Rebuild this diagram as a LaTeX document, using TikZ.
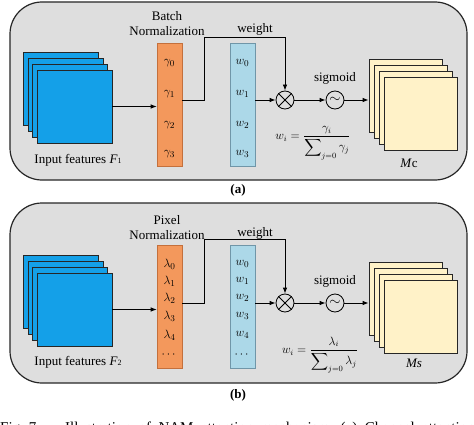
\documentclass[tikz,border=0pt]{standalone}
\usepackage{amsmath}
\usepackage{fontspec}
\setmainfont{Liberation Serif}
\usetikzlibrary{arrows.meta}
\definecolor{panelgray}{RGB}{222,222,222}
\definecolor{featblue}{RGB}{20,160,232}
\definecolor{bnorange}{RGB}{243,152,92}
\definecolor{bnedge}{RGB}{196,112,60}
\definecolor{wblue}{RGB}{172,216,232}
\definecolor{wedge}{RGB}{112,150,168}
\definecolor{mapyellow}{RGB}{255,242,200}

\begin{document}
\begin{tikzpicture}[x=10pt,y=10pt,
	panel/.style={draw=black!85,fill=panelgray,line width=1.2pt,rounded corners=32pt},
	feat/.style={draw=black!85,fill=featblue,line width=.8pt,minimum width=75pt,minimum height=73pt,inner sep=0pt},
	attmap/.style={draw=black!85,fill=mapyellow,line width=.8pt,minimum width=73pt,minimum height=73pt,inner sep=0pt},
	normbar/.style={draw=bnedge,fill=bnorange,line width=.6pt,minimum width=25pt,minimum height=123pt,inner sep=0pt},
	wbar/.style={draw=wedge,fill=wblue,line width=.6pt,minimum width=25pt,minimum height=123pt,inner sep=0pt},
	op/.style={draw,circle,line width=.8pt,minimum size=18pt,inner sep=0pt},
	lbl/.style={font=\fontsize{13}{15}\selectfont,inner sep=1pt},
	item/.style={font=\fontsize{13}{15}\selectfont,inner sep=0pt},
	arr/.style={-{Latex[length=6pt,width=4.5pt]},line width=.8pt}]
	\useasboundingbox (0,0) rectangle (47.4,42.4);

	\draw[panel] (1.0,42.2) rectangle (46.7,24.4);
	\node[lbl,font=\bfseries\fontsize{13}{15}\selectfont] (capA) at (23.8,23.4) {(a)};

	\node[feat] (inA4) at (6.05,33.55) {};
	\node[feat] (inA3) at (6.55,32.95) {};
	\node[feat] (inA2) at (6.95,32.35) {};
	\node[feat] (inA1) at (7.45,31.75) {};
	\node[lbl] (inlabA) at (7.8,26.4) {Input features \textit{F}{\footnotesize 1}};

	\node[normbar] (bnA) at (16.95,31.95) {};
	\node[lbl,align=center] (bnlabA) at (16.7,40.05) {Batch\\Normalization};
	\node[item] (gA0) at (16.95,36.1) {$\gamma_0$};
	\node[item] (gA1) at (16.95,33.0) {$\gamma_1$};
	\node[item] (gA2) at (16.95,29.9) {$\gamma_2$};
	\node[item] (gA3) at (16.95,27.0) {$\gamma_3$};

	\node[wbar] (wA) at (24.25,31.95) {};
	\node[item] (wA0) at (24.25,36.1) {$w_0$};
	\node[item] (wA1) at (24.25,33.0) {$w_1$};
	\node[item] (wA2) at (24.25,29.9) {$w_2$};
	\node[item] (wA3) at (24.25,27.0) {$w_3$};

	\node[op] (mulA) at (28.5,32.4) {};
	\draw[line width=.8pt] (mulA.north west) -- (mulA.south east) (mulA.north east) -- (mulA.south west);
	\node[op,font=\fontsize{14}{14}\selectfont] (sigA) at (33.5,32.4) {$\sim$};
	\node[lbl,anchor=south,inner sep=0pt] (siglabA) at (33.5,33.9) {sigmoid};
	\node[lbl] (wtlabA) at (25.5,39.5) {weight};
	\coordinate (bendA) at (20.4,38.7);
	\node[item,font=\fontsize{12}{14}\selectfont] (eqA) at (31.3,28.1) {$w_i=\dfrac{\gamma_i}{\displaystyle\sum\nolimits_{j=0}\gamma_j}$};

	\node[attmap] (mcA4) at (40.55,32.85) {};
	\node[attmap] (mcA3) at (41.05,32.25) {};
	\node[attmap] (mcA2) at (41.55,31.65) {};
	\node[attmap] (mcA1) at (42.05,31.05) {};
	\node[lbl] (mclab) at (40.9,26.1) {\textit{M}c};

	\draw[arr] (inA1.east) -- (inA1.east -| bnA.west);
	\draw[arr] (bnA.east |- mulA) -| (bendA) -| (mulA);
	\draw[arr] (wA.east |- mulA) -- (mulA);
	\draw[arr] (mulA) -- (sigA);
	\draw[arr] (sigA) -- (sigA -| mcA4.west);

	\draw[panel] (1.0,22.1) rectangle (46.7,4.1);
	\node[lbl,font=\bfseries\fontsize{13}{15}\selectfont] (capB) at (23.8,2.9) {(b)};

	\node[feat] (inB4) at (6.05,13.25) {};
	\node[feat] (inB3) at (6.55,12.65) {};
	\node[feat] (inB2) at (6.95,12.05) {};
	\node[feat] (inB1) at (7.45,11.45) {};
	\node[lbl] (inlabB) at (7.8,6.2) {Input features \textit{F}{\footnotesize 2}};

	\node[normbar] (pnB) at (16.95,11.75) {};
	\node[lbl,align=center] (pnlabB) at (16.7,19.65) {Pixel\\Normalization};
	\node[item] (lB0) at (16.95,16.0) {$\lambda_0$};
	\node[item] (lB1) at (16.95,14.3) {$\lambda_1$};
	\node[item] (lB2) at (16.95,12.6) {$\lambda_2$};
	\node[item] (lB3) at (16.95,10.8) {$\lambda_3$};
	\node[item] (lB4) at (16.95,8.9) {$\lambda_4$};
	\node[item] (lB5) at (16.95,6.9) {$\cdots$};

	\node[wbar] (wB) at (24.25,11.75) {};
	\node[item] (wB0) at (24.25,16.0) {$w_0$};
	\node[item] (wB1) at (24.25,14.3) {$w_1$};
	\node[item] (wB2) at (24.25,12.6) {$w_2$};
	\node[item] (wB3) at (24.25,10.8) {$w_3$};
	\node[item] (wB4) at (24.25,8.9) {$w_4$};
	\node[item] (wB5) at (24.25,6.9) {$\cdots$};

	\node[op] (mulB) at (28.5,12.1) {};
	\draw[line width=.8pt] (mulB.north west) -- (mulB.south east) (mulB.north east) -- (mulB.south west);
	\node[op,font=\fontsize{14}{14}\selectfont] (sigB) at (33.5,12.1) {$\sim$};
	\node[lbl,anchor=south,inner sep=0pt] (siglabB) at (33.5,13.6) {sigmoid};
	\node[lbl] (wtlabB) at (25.5,19.1) {weight};
	\coordinate (bendB) at (20.4,18.5);
	\node[item,font=\fontsize{12}{14}\selectfont] (eqB) at (32.0,6.9) {$w_i=\dfrac{\lambda_i}{\displaystyle\sum\nolimits_{j=0}\lambda_j}$};

	\node[attmap] (msB4) at (40.55,12.55) {};
	\node[attmap] (msB3) at (41.05,11.95) {};
	\node[attmap] (msB2) at (41.55,11.35) {};
	\node[attmap] (msB1) at (42.05,10.75) {};
	\node[lbl] (mslab) at (41.4,6.1) {\textit{Ms}};

	\draw[arr] (inB1.east) -- (inB1.east -| pnB.west);
	\draw[arr] (pnB.east |- mulB) -| (bendB) -| (mulB);
	\draw[arr] (wB.east |- mulB) -- (mulB);
	\draw[arr] (mulB) -- (sigB);
	\draw[arr] (sigB) -- (sigB -| msB4.west);

	\begin{scope}
	\clip (0,0) rectangle (47.4,42.4);
	\node[anchor=base west,inner sep=0pt,font=\fontsize{15}{17}\selectfont] (figno) at (0,-0.8) {Fig. 7.};
	\node[anchor=base west,inner sep=0pt,font=\fontsize{15}{17}\selectfont] (figcap) at (6.5,-0.8) {Illustration\ \ of\ \ NAM\ \ attention\ \ mechanism.\ \ (a)\ \ Channel\ \ attention};
	\end{scope}
\end{tikzpicture}
\end{document}
